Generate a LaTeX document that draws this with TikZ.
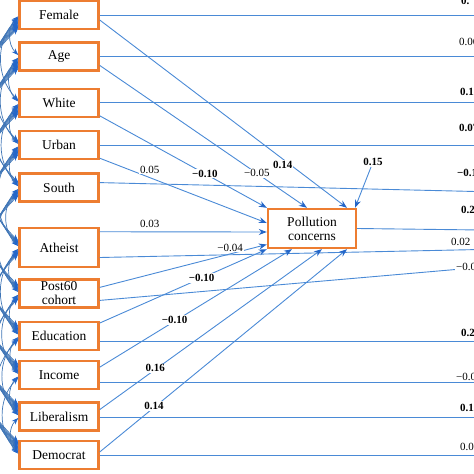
\documentclass[tikz,border=0pt]{standalone}
\usepackage{fontspec}
\setmainfont{Liberation Serif}
\usetikzlibrary{arrows.meta,positioning}
\definecolor{pcOrange}{HTML}{ED7D31}
\definecolor{pcBlue}{HTML}{4A8AD6}
\definecolor{pcDark}{HTML}{2466C8}

\begin{document}
\begin{tikzpicture}[x=1pt, y=1pt,
  var/.style={draw=pcOrange, line width=2.4pt, fill=white, minimum width=79pt, minimum height=28pt, align=center, inner sep=2pt, font=\fontsize{13.5}{14}\selectfont},
  eff/.style={-{Stealth[length=8pt, width=6pt, color=pcDark]}, line width=0.9pt, pcBlue},
  cov/.style={{Stealth[length=7pt, width=5pt, color=pcDark]}-{Stealth[length=7pt, width=5pt, color=pcDark]}, line width=0.7pt, pcBlue!85!black},
  lin/.style={line width=0.9pt, pcBlue},
  lab/.style={font=\fontsize{11}{12}\selectfont, text=black, fill=white, inner sep=1pt},
  blab/.style={lab, font=\fontsize{11}{12}\selectfont\bfseries}]
\useasboundingbox (0,0) rectangle (474,-474);
\clip (0,0) rectangle (474,-474);
% exogenous variables
\node[var] (fem) at (59,-15) {Female};
\node[var, below=11pt of fem] (age) {Age};
\node[var, below=16pt of age] (whi) {White};
\node[var, below=12pt of whi] (urb) {Urban};
\node[var, below=12pt of urb] (sou) {South};
\node[var, below=24pt of sou, minimum height=39pt] (ath) {Atheist};
\node[var, below=10pt of ath] (pst) {Post60\\cohort};
\node[var, below=12pt of pst] (edu) {Education};
\node[var, below=9pt of edu] (inc) {Income};
\node[var, below=11pt of inc] (lib) {Liberalism};
\node[var, below=8pt of lib] (dem) {Democrat};
% mediator
\node[var, minimum width=88pt, minimum height=39pt] (pc) at (312,-228.5) {Pollution\\concerns};
% covariances on the left
\foreach \a [count=\i] in {fem,age,whi,urb,sou,ath,pst,edu,inc,lib,dem}
  \foreach \b [count=\j] in {fem,age,whi,urb,sou,ath,pst,edu,inc,lib,dem}
    {\ifnum\j>\i
       \pgfmathsetmacro\d{1.3*(\j-\i)}
       \draw[cov] ([yshift=-\d pt]\a.west) to[bend right=45] ([yshift=\d pt]\b.west);
     \fi}
% paths to the right edge
\draw[lin] (fem.east) -- ++(380,0);
\draw[lin] (age.east) -- ++(380,0);
\draw[lin] (whi.east) -- ++(380,0);
\draw[lin] (urb.east) -- ++(380,0);
\draw[lin] ([yshift=5pt]sou.east) -- ++(380,-9);
\draw[lin] ([yshift=-10pt]ath.east) -- ++(380,8);
\draw[lin] ([yshift=-7pt]pst.east) -- ++(380,33);
\draw[lin] ([yshift=-6pt]edu.east) -- ++(380,0);
\draw[lin] ([yshift=-7pt]inc.east) -- ++(380,0);
\draw[lin] ([yshift=-1pt]lib.east) -- ++(380,0);
\draw[lin] (dem.east) -- ++(380,0);
\draw[lin] (pc.east) -- ++(125,-1.5);
% paths to pollution concerns
\draw[eff] ([yshift=-5pt]fem.east) -- node[blab, pos=0.74, below=1pt]{0.14} ([xshift=35pt]pc.north);
\draw[eff] ([yshift=-9pt]age.east) -- node[lab, pos=0.758]{−0.05} ([xshift=-5pt]pc.north);
\draw[eff] ([yshift=-13pt]whi.east) -- node[blab, pos=0.63]{−0.10} (pc.north west);
\draw[eff] ([yshift=-13pt]urb.east) -- node[lab, pos=0.3, above=3pt]{0.05} ([yshift=5.5pt]pc.west);
\draw[eff] ([yshift=15.75pt]ath.east) -- node[lab, pos=0.3, above=3pt]{0.03} ([yshift=-3.5pt]pc.west);
\draw[eff] ([yshift=6pt]pst.east) -- node[lab, pos=0.78, above=1pt]{−0.04} ([yshift=-16pt]pc.west);
\draw[eff] ([yshift=12.75pt]edu.east) -- node[blab, pos=0.61]{−0.10} (pc.south west);
\draw[eff] ([yshift=8pt]inc.east) -- node[blab, pos=0.39, above=-4pt]{−0.10} ([xshift=-20pt]pc.south);
\draw[eff] ([yshift=7pt]lib.east) -- node[blab, pos=0.25, above=-4pt]{0.16} ([xshift=10pt]pc.south);
\draw[eff] ([yshift=3pt]dem.east) -- node[blab, pos=0.22, above=-4pt]{0.14} ([xshift=35pt]pc.south);
\node[blab] (l15) at (373,-162) {0.15};
\draw[eff] (l15) -- ([xshift=43pt]pc.north);
% coefficients cut at the right edge
\foreach \x/\y/\t/\s [count=\k] in {460/-1/0./blab, 458/-42/0.06/lab, 459/-92/0.1/blab, 458/-128/0.07/blab,
    456/-173/−0.1/blab, 460/-210/0.2/blab, 450/-242/0.02/lab, 455/-267/−0.0/lab,
    460/-333/0.2/blab, 455/-377/−0.0/lab, 459/-408/0.1/blab, 459/-447/0.0/lab}
  \node[\s, anchor=west] (cut\k) at (\x,\y) {\t};
\end{tikzpicture}
\end{document}
